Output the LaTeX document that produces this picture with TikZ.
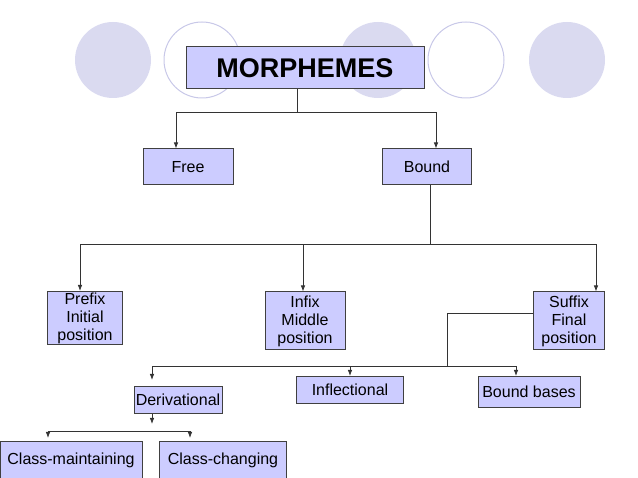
\documentclass[tikz,border=0pt]{standalone}
\usepackage{fontspec}
\setmainfont{Liberation Sans}
\usetikzlibrary{arrows.meta}
\begin{document}
\begin{tikzpicture}[x=1pt,y=-1pt,
  bx/.style={draw=black!75,fill={rgb,255:red,204;green,204;blue,255},line width=1pt,inner sep=0pt,align=center,font=\fontsize{16}{18}\selectfont},
  ln/.style={draw=black!80,line width=0.8pt},
  ar/.style={ln,-{Latex[length=6pt,width=4.5pt]}},
  fc/.style={fill={rgb,255:red,218;green,218;blue,240},draw=none},
  oc/.style={draw={rgb,255:red,200;green,200;blue,232},line width=1pt}]
\useasboundingbox (0,0) rectangle (638,478);
\fill[fc] (113,60) circle (38);
\draw[oc] (202,60) circle (38);
\fill[fc] (378,60) circle (38);
\draw[oc] (466,60) circle (38);
\fill[fc] (567,60) circle (38);
\node[bx,minimum width=238,minimum height=42,font=\fontsize{27}{29}\selectfont\bfseries] (m) at (305,68) {MORPHEMES};
\node[bx,minimum width=90,minimum height=36] (free) at (188,167) {Free};
\node[bx,minimum width=89,minimum height=36] (bound) at (427,167) {Bound};
\node[bx,minimum width=75,minimum height=53] (pre) at (85,318) {Prefix\\Initial\\position};
\node[bx,minimum width=80,minimum height=58] (inf) at (305,321) {Infix\\Middle\\position};
\node[bx,minimum width=71,minimum height=58] (suf) at (569,321) {Suffix\\Final\\position};
\node[bx,minimum width=107,minimum height=27] (infl) at (350,390) {Inflectional};
\node[bx,minimum width=102,minimum height=31] (bb) at (529,392) {Bound bases};
\node[bx,minimum width=88,minimum height=27] (der) at (178,400) {Derivational};
\node[bx,minimum width=142,minimum height=37] (cm) at (71,460) {Class-maintaining};
\node[bx,minimum width=127,minimum height=37] (cc) at (223,460) {Class-changing};
\coordinate (j1) at (297,112);
\draw[ln] (m.south -| j1) -- (j1);
\draw[ar] (j1) -| (free.north -| 176,0);
\draw[ar] (j1) -| (bound.north -| 436,0);
\coordinate (j2) at (430,244);
\draw[ln] (bound.south -| j2) -- (j2);
\draw[ar] (j2) -| (pre.north -| 80,0);
\draw[ar] (j2) -| (inf.north -| 303,0);
\draw[ar] (j2) -| (suf.north -| 596,0);
\coordinate (j3) at (447,313);
\coordinate (j4) at (447,366);
\draw[ln] (suf.west |- j3) -- (j3) -- (j4);
\coordinate (d1) at (152,380);
\draw[ar] (j4) -| (d1);
\draw[ar] (j4) -| (infl.north -| 350,0);
\draw[ar] (j4) -| (bb.north -| 516,0);
\coordinate (d2) at (152,424);
\draw[ar] (der.south -| d2) -- (d2);
\coordinate (c0) at (119,431);
\coordinate (c1) at (48,438);
\coordinate (c2) at (190,438);
\draw[ar] (c0) -| (c1);
\draw[ar] (c0) -| (c2);
\end{tikzpicture}
\end{document}
